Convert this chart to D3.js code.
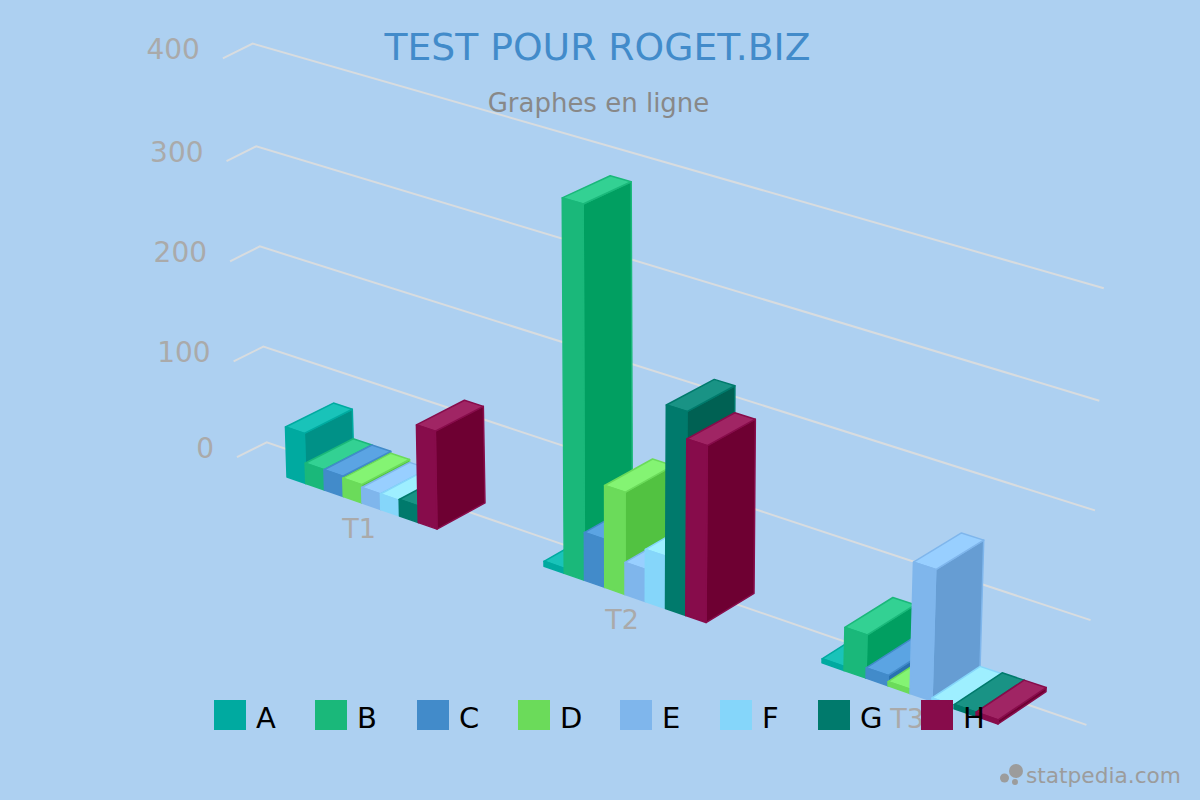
<!DOCTYPE html>
<html>
<head>
<meta charset="utf-8">
<script src="https://cdn.jsdelivr.net/npm/d3@7"></script>
<style>
  html, body { margin: 0; padding: 0; background: #add0f1; }
  svg { display: block; font-family: "DejaVu Sans", sans-serif; }
</style>
</head>
<body>
<svg id="chart" width="1200" height="800"></svg>
<script>
// Chart data
const categories = ['T1', 'T2', 'T3'];
const seriesNames = ['A', 'B', 'C', 'D', 'E', 'F', 'G', 'H'];
const seriesColors = ['#00aaa0', '#1ab87a', '#428bca', '#6bdb5a', '#7fb6ec', '#85d6fa', '#007a6c', '#870c4b'];
const valuesA = [52, 5, 4];
const valuesB = [21, 364, 42];
const valuesC = [21, 48, 10];
const valuesD = [19, 102, 4];
const valuesE = [16, 32, 126];
const valuesF = [16, 52, 3];
const valuesG = [17, 198, 4];
const valuesH = [100, 172, 4];
const yTicks = [0, 100, 200, 300, 400];

const allValues = [valuesA, valuesB, valuesC, valuesD, valuesE, valuesF, valuesG, valuesH];

const svg = d3.select('#chart');

// Fake 3D: front edge of the floor, depth vector, and a value scale that grows to the right.
const frontX = d3.scaleLinear().domain([0.2, 0.8, 1.2, 1.8, 2.2, 2.8]).range([287, 437, 544, 706, 822, 998]);
const frontY = d3.scaleLinear().domain([287, 998]).range([477, 724]);
const depthY = d3.scaleLinear().domain([236, 1056]).range([-24, -33]);
const depthFade = d3.scaleLinear().domain([0, 376]).range([1, 0.8]);
const valueHeight = d3.scaleLinear().domain(yTicks).range([0, 96, 196.5, 297, 400]);
const pxPerUnit = d3.scaleLinear().domain([266, 1086]).range([1, 1.095]);
const gridLift = d3.scaleLinear().domain([0, 3]).range([2.5, -1]);
const depthX = 48;
const vanishX = 623;
const vanishDist = 10900;
const gridDepth = 0.62;

function project(u, v, w, fade) {
  const x0 = frontX(u);
  const h = valueHeight(v) * pxPerUnit(x0);
  const dy = depthY(x0) * w * (fade ? depthFade(h) : 1);
  return [
    x0 + depthX * w + (x0 - vanishX) * h / vanishDist,
    frontY(x0) + dy - h
  ];
}

function projectGrid(u, v, w) {
  const p = project(u, v, w, false);
  return [p[0], p[1] - gridLift(u)];
}

const barBand = d3.scaleBand().domain(seriesNames).range([0.2, 0.8]);
const line = d3.line();

function shade(color, amount) {
  const c = d3.rgb(color);
  return d3.rgb(c.r + amount, c.g + amount, c.b + amount).formatHex();
}

// Grid lines: short piece on the side wall, long piece along the back
const grid = svg.append('g');
yTicks.forEach(t => {
  grid.append('path')
    .attr('d', line([projectGrid(0, t, 0), projectGrid(0, t, gridDepth), projectGrid(3, t, gridDepth)]))
    .attr('fill', 'none')
    .attr('stroke', '#d8dcdf')
    .attr('stroke-width', 2);
  const p = projectGrid(0, t, 0);
  grid.append('text')
    .attr('x', p[0] - 23)
    .attr('y', p[1] + 0.5)
    .attr('text-anchor', 'end')
    .attr('font-size', 28)
    .attr('fill', '#aaaaaa')
    .text(t);
});

// Category labels
categories.forEach((c, i) => {
  const x0 = frontX(i + 0.5);
  svg.append('text')
    .attr('x', x0 - 3)
    .attr('y', frontY(x0) + 34.5)
    .attr('text-anchor', 'middle')
    .attr('font-size', 27)
    .attr('fill', '#aaaaaa')
    .text(c);
});

// Columns, one group at a time, first series at the back of the paint order
const bars = svg.append('g');
categories.forEach((c, i) => {
  seriesNames.forEach((name, s) => {
    const v = allValues[s][i];
    const u0 = i + barBand(name);
    const u1 = u0 + barBand.bandwidth();
    const color = seriesColors[s];
    const g = bars.append('g')
      .attr('stroke', color)
      .attr('stroke-width', 1.5)
      .attr('stroke-linejoin', 'round');
    // side
    g.append('path')
      .attr('d', line([project(u1, 0, 0, true), project(u1, 0, 1, true), project(u1, v, 1, true), project(u1, v, 0, true)]) + 'Z')
      .attr('fill', shade(color, -25));
    // top
    g.append('path')
      .attr('d', line([project(u0, v, 0, true), project(u1, v, 0, true), project(u1, v, 1, true), project(u0, v, 1, true)]) + 'Z')
      .attr('fill', shade(color, 25));
    // front
    g.append('path')
      .attr('d', line([project(u0, 0, 0, true), project(u1, 0, 0, true), project(u1, v, 0, true), project(u0, v, 0, true)]) + 'Z')
      .attr('fill', color);
  });
});

// Title and subtitle
svg.append('text')
  .attr('x', 597.5).attr('y', 60)
  .attr('text-anchor', 'middle')
  .attr('font-size', 37.7)
  .attr('fill', '#428bca')
  .text('TEST POUR ROGET.BIZ');
svg.append('text')
  .attr('x', 598.5).attr('y', 112)
  .attr('text-anchor', 'middle')
  .attr('font-size', 26)
  .attr('fill', '#888888')
  .text('Graphes en ligne');

// Legend
const legendX = [214, 315, 417, 518, 620, 720, 818, 921];
const legend = svg.append('g');
seriesNames.forEach((name, s) => {
  legend.append('rect')
    .attr('x', legendX[s]).attr('y', 700)
    .attr('width', 32).attr('height', 30)
    .attr('fill', seriesColors[s]);
  legend.append('text')
    .attr('x', legendX[s] + 42).attr('y', 728)
    .attr('font-size', 29)
    .attr('fill', '#000000')
    .text(name);
});

// Watermark
const mark = svg.append('g').attr('fill', '#9c9c9c');
mark.append('circle').attr('cx', 1004.5).attr('cy', 778).attr('r', 4.5);
mark.append('circle').attr('cx', 1016).attr('cy', 771).attr('r', 7);
mark.append('circle').attr('cx', 1015).attr('cy', 782).attr('r', 3);
mark.append('text')
  .attr('x', 1026).attr('y', 782.5)
  .attr('font-size', 21.7)
  .text('statpedia.com');
</script>
</body>
</html>
